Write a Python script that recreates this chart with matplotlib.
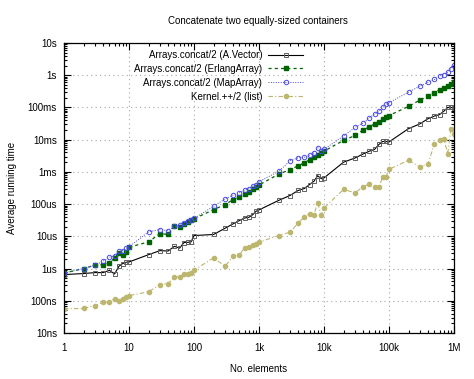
import numpy as np
import matplotlib
matplotlib.use("Agg")
import matplotlib.pyplot as plt
from matplotlib.ticker import FixedLocator, LogLocator, NullFormatter

plt.rcParams['font.family'] = ['Liberation Sans', 'DejaVu Sans']

# number of elements in each container
sizes = [1, 2, 3, 4, 5, 6, 7, 8, 9,
         10, 20, 30, 40, 50, 60, 70, 80, 90,
         100, 200, 300, 400, 500, 600, 700, 800, 900,
         1000, 2000, 3000, 4000, 5000, 6000, 7000, 8000, 9000,
         10000, 20000, 30000, 40000, 50000, 60000, 70000, 80000, 90000,
         100000, 200000, 300000, 400000, 500000, 600000, 700000, 800000, 900000,
         1000000]

# average running times, in microseconds
vector_us = [0.65, 0.7, 0.75, 0.75, 0.88, 0.68, 1.18, 1.43, 1.57,
             1.6, 2.7, 3.6, 3.5, 4.9, 4.3, 6.4, 6.5, 6.7,
             10.6, 11.4, 17.8, 24.5, 31, 37, 39, 47, 60,
             66, 130, 185, 265, 305, 405, 510, 760, 620,
             650, 2000, 2700, 3600, 4400, 5000, 7100, 8800, 8800,
             8500, 22000, 31000, 45000, 54000, 60000, 77000, 100000, 100000,
             98000]
erlang_us = [0.72, 1.0, 1.27, 1.33, 1.5, 2.15, 3.1, 2.7, 3.2,
             4.6, 6.7, 12.2, 11.4, 20.5, 19.7, 24.5, 28, 31.6,
             35, 67, 97, 138, 168, 205, 242, 285, 330,
             390, 850, 1170, 1550, 1900, 2400, 2900, 3300, 3800,
             4400, 9500, 13500, 20000, 25000, 31000, 36000, 43000, 50000,
             56000, 108000, 170000, 225000, 290000, 355000, 400000, 450000, 520000,
             630000]
map_us = [0.73, 1.0, 1.27, 1.7, 2.25, 2.5, 3.4, 3.6, 4.2,
          4.7, 13.8, 16.2, 15, 20.5, 22, 26, 31, 33,
          36, 85, 145, 190, 225, 275, 300, 360, 405,
          500, 1030, 2200, 2750, 2850, 3300, 3900, 5600, 4600,
          5000, 13000, 24000, 33000, 48000, 62000, 75000, 100000, 125000,
          140000, 300000, 460000, 610000, 740000, 940000, 1050000, 1250000, 1600000,
          2100000]
kernel_us = [0.056, 0.058, 0.071, 0.091, 0.091, 0.117, 0.100, 0.115, 0.128,
             0.145, 0.19, 0.32, 0.34, 0.54, 0.55, 0.70, 0.70, 0.74,
             0.89, 2.15, 1.18, 2.4, 2.6, 4.5, 4.6, 5.2, 5.8,
             6.6, 10.6, 13.4, 26, 40, 50, 47, 110, 47,
             76, 285, 225, 345, 425, 335, 335, 710, 710,
             1200, 2300, 1400, 1800, 7600, 9500, 10700, 3600, 22000,
             14500]

x_ticks = [1, 10, 100, 1000, 10000, 100000, 1000000]
x_labels = ["1", "10", "100", "1k", "10k", "100k", "1M"]
y_ticks = [1e-8, 1e-7, 1e-6, 1e-5, 1e-4, 1e-3, 1e-2, 1e-1, 1, 10]
y_labels = ["10ns", "100ns", "1us", "10us", "100us", "1ms", "10ms", "100ms", "1s", "10s"]

fs = 7
fig = plt.figure(figsize=(4.74, 3.79), dpi=100)
ax = fig.add_axes([64 / 474, 1 - 333 / 379, 390 / 474, 290 / 379])

to_s = 1e-6
ax.plot(sizes, np.array(vector_us) * to_s, color='black', lw=0.8, ls='-',
        marker='s', ms=3.0, mfc='none', mec='#606060', mew=0.7,
        label='Arrays.concat/2 (A.Vector)')
ax.plot(sizes, np.array(erlang_us) * to_s, color='#006400', lw=0.9, ls=(0, (2.5, 2.5)),
        marker='s', ms=3.0, mfc='#006400', mec='#006400',
        label='Arrays.concat/2 (ErlangArray)')
ax.plot(sizes, np.array(map_us) * to_s, color='#4a4ae8', lw=0.7, ls=(0, (1, 1.5)),
        marker='o', ms=3.2, mfc='none', mec='#4a4ae8', mew=0.7,
        label='Arrays.concat/2 (MapArray)')
ax.plot(sizes, np.array(kernel_us) * to_s, color='#bdb66e', lw=0.8, ls=(0, (4, 2, 1, 2)),
        marker='o', ms=3.0, mfc='#bdb66e', mec='#bdb66e',
        label='Kernel.++/2 (list)')

ax.set_xscale('log')
ax.set_yscale('log')
ax.set_xlim(1, 1e6)
ax.set_ylim(1e-8, 10)

ax.xaxis.set_major_locator(FixedLocator(x_ticks))
ax.set_xticklabels(x_labels, fontsize=fs)
ax.yaxis.set_major_locator(FixedLocator(y_ticks))
ax.set_yticklabels(y_labels, fontsize=fs)
for axis in (ax.xaxis, ax.yaxis):
    axis.set_minor_locator(LogLocator(base=10, subs=np.arange(2, 10), numticks=100))
    axis.set_minor_formatter(NullFormatter())

ax.tick_params(which='both', direction='in', top=True, right=True, width=0.8)
ax.tick_params(which='major', length=5, pad=5)
ax.tick_params(which='minor', length=2.5)
ax.tick_params(axis='x', pad=7)
for s in ax.spines.values():
    s.set_linewidth(0.9)

ax.grid(True, which='major', ls=(0, (1, 3)), color='#a8a8a8', lw=0.8)

leg = ax.legend(loc='upper right', bbox_to_anchor=((303 - 64) / 390, (333 - 50) / 290),
                frameon=False, markerfirst=False, fontsize=fs, handlelength=3.6,
                handletextpad=0.6, labelspacing=0.4, borderpad=0, borderaxespad=0)

fig.text(258 / 474, 1 - 21 / 379, 'Concatenate two equally-sized containers',
         ha='center', va='center', fontsize=fs)
fig.text(259 / 474, 1 - 369 / 379, 'No. elements', ha='center', va='center', fontsize=fs)
fig.text(12 / 474, 1 - 188 / 379, 'Average running time', ha='center', va='center',
         rotation=90, fontsize=fs)

fig.savefig('out.png', dpi=100)
